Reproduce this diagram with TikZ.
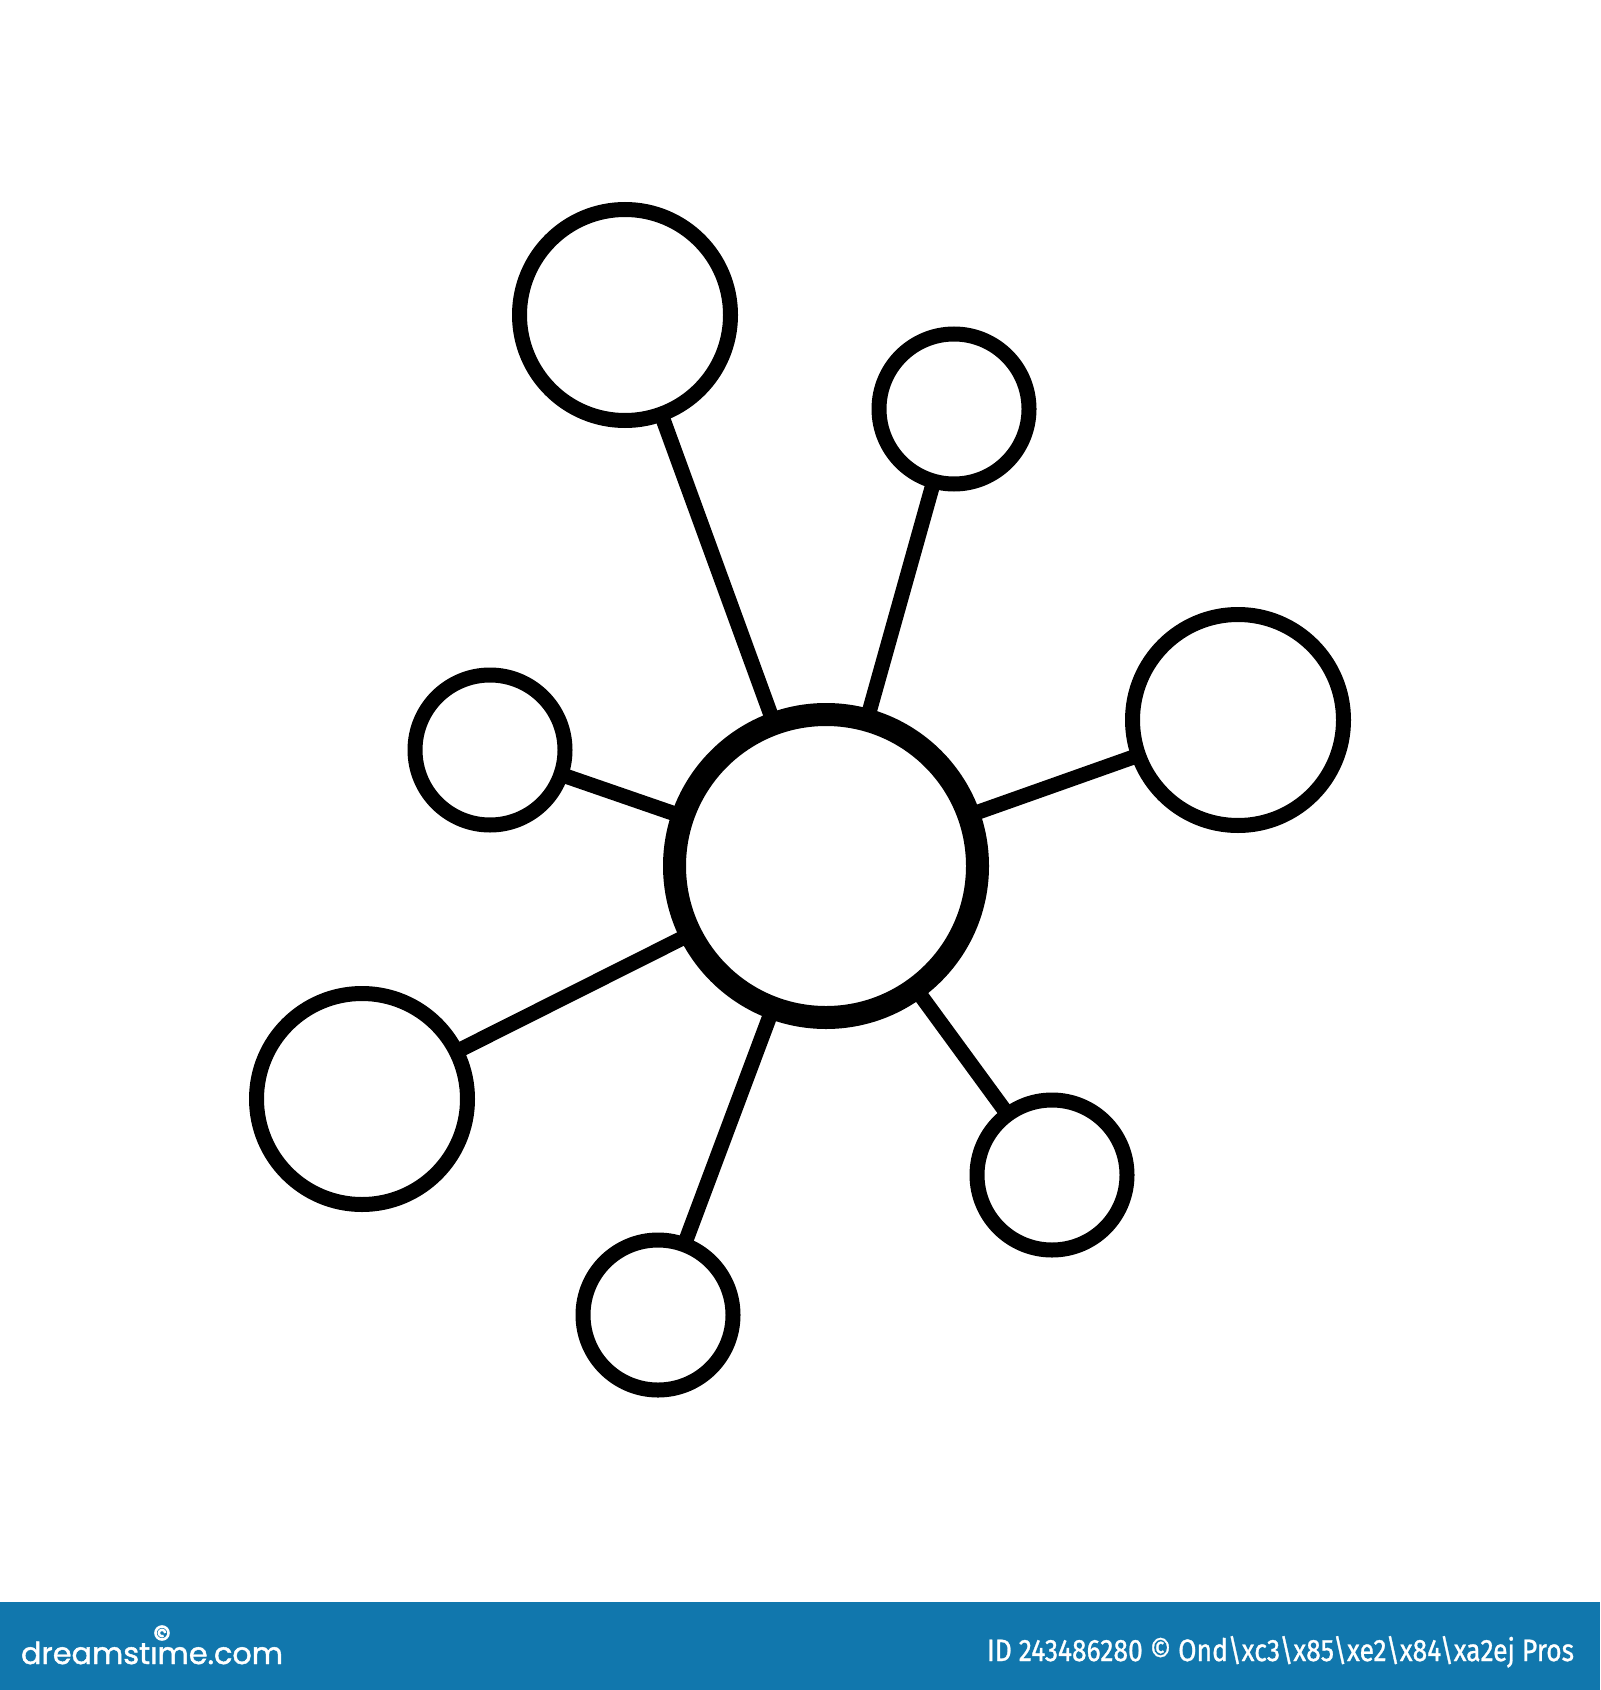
\documentclass[tikz,border=0pt]{standalone}
\usepackage{fontspec}
\setmainfont{Fira Sans}
\newfontfamily\creditfont{Fira Sans}[FakeBold=1]
\newfontfamily\logofont{Poppins}[FakeBold=1.5]
\usetikzlibrary{backgrounds}
\definecolor{barblue}{RGB}{17,119,173}
\begin{document}
\begin{tikzpicture}[x=0.5pt,y=-0.5pt,
  hub/.style={circle,draw=black,fill=white,line width=11.5pt,minimum size=151.5pt,inner sep=0pt},
  bignode/.style={circle,draw=black,fill=white,line width=7.5pt,minimum size=105.5pt,inner sep=0pt},
  smallnode/.style={circle,draw=black,fill=white,line width=7.5pt,minimum size=75pt,inner sep=0pt},
  link/.style={line width=7.5pt,draw=black},
  bartext/.style={text=white,inner sep=0pt,outer sep=0pt}]
\useasboundingbox (0,0) rectangle (1600,1690);

\node[hub] (C) at (826,866) {};
\node[bignode] (TL) at (625,315) {};
\node[smallnode] (TR) at (954,409) {};
\node[bignode] (R) at (1238,720) {};
\node[smallnode] (L) at (490,750) {};
\node[bignode] (BL) at (362,1099) {};
\node[smallnode] (B) at (658,1315) {};
\node[smallnode] (BR) at (1052,1175) {};

\begin{pgfonlayer}{background}
\fill[white] (0,0) rectangle (1600,1690);
\foreach \n in {TL,TR,R,L,BL,B,BR}{
  \draw[link] (C.center) -- (\n.center);
}
\end{pgfonlayer}

% bottom bar
\fill[barblue] (0,1602) rectangle (1600,1690);
\node[bartext,anchor=base west] (logo) at (21,1664)
  {\resizebox{131pt}{!}{\logofont dreamstıme.com}};
\coordinate (swirl) at (162,1633);
\draw[white,line width=1.3pt] (swirl) circle (6.5);
\draw[white,line width=1.2pt] ([xshift=1.6pt]swirl) arc (0:300:1.6pt);
\node[bartext,anchor=base east] (credit) at (1574,1661)
  {\resizebox{293.5pt}{12.5pt}{\creditfont ID 243486280 © Ond\textbackslash xc3\textbackslash x85\textbackslash xe2\textbackslash x84\textbackslash xa2ej Pros}};
\end{tikzpicture}
\end{document}
